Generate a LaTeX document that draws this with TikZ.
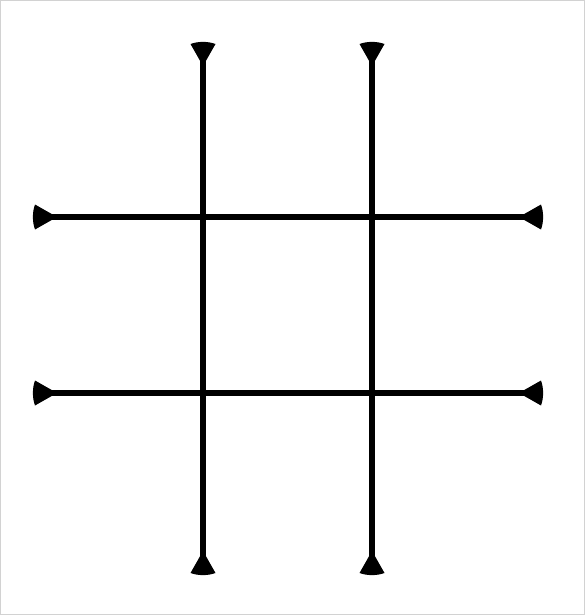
\documentclass[tikz,border=0pt]{standalone}
\begin{document}
\begin{tikzpicture}[x=1pt,y=1pt,
  gridline/.style={line width=5.2pt,black},
  fan/.pic={\fill[black] (24,0) -- (2,12.5) .. controls (-0.8,5) and (-0.8,-5) .. (2,-12.5) -- cycle;}]
\useasboundingbox (0,0) rectangle (585,-615);
\draw[gray!35,line width=1pt] (0.5,-0.5) rectangle (584.5,-614.5);
% end points
\coordinate (v1t) at (203,-42);  \coordinate (v1b) at (203,-575);
\coordinate (v2t) at (372,-42);  \coordinate (v2b) at (372,-575);
\coordinate (h1l) at (33,-217);  \coordinate (h1r) at (543,-217);
\coordinate (h2l) at (33,-393);  \coordinate (h2r) at (543,-393);
% lines
\draw[gridline] (v1t) -- (v1b);
\draw[gridline] (v2t) -- (v2b);
\draw[gridline] (h1l) -- (h1r);
\draw[gridline] (h2l) -- (h2r);
% fan-shaped tips
\pic[rotate=-90] at (v1t) {fan};
\pic[rotate=90] at (v1b) {fan};
\pic[rotate=-90] at (v2t) {fan};
\pic[rotate=90] at (v2b) {fan};
\pic at (h1l) {fan};
\pic[rotate=180] at (h1r) {fan};
\pic at (h2l) {fan};
\pic[rotate=180] at (h2r) {fan};
\end{tikzpicture}
\end{document}
